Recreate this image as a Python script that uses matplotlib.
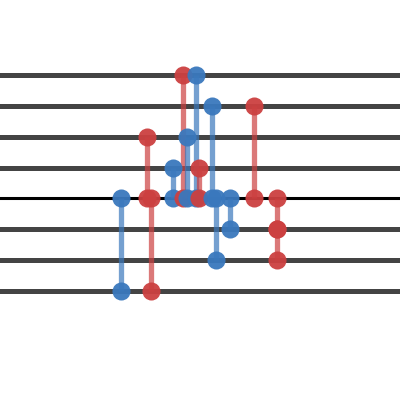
import numpy as np
import matplotlib
matplotlib.use("Agg")
import matplotlib.pyplot as plt

# staff levels (0 is the centre line)
levels = [4, 3, 2, 1, 0, -1, -2, -3]

# vertical links: position, start level, end level, colour
link_x = [121, 147, 151, 173, 183, 187, 196, 199, 212, 216, 230, 254, 277, 277]
link_from = [0, 2, 0, 1, 4, 2, 4, 1, 3, 0, 0, 3, 0, -1]
link_to = [-3, 0, -3, 0, 0, 0, 0, 0, 0, -2, -1, 0, -1, -2]
link_kind = ["b", "r", "r", "b", "r", "b", "b", "r", "b", "b", "b", "r", "r", "r"]

colors = {"b": "#3a78bd", "r": "#cc4040"}

fig = plt.figure(figsize=(4, 4), dpi=100)
ax = fig.add_axes([0, 0, 1, 1])

for lv in levels:
    if lv == 0:
        ax.axhline(lv, color="black", lw=2.2, zorder=1)
    else:
        ax.axhline(lv, color="#444444", lw=3.6, zorder=1)

for x, a, b, k in zip(link_x, link_from, link_to, link_kind):
    c = colors[k]
    ax.plot([x, x], [a, b], color=c, lw=3.8, alpha=0.7, solid_capstyle="butt", zorder=2)
    ax.plot([x, x], [a, b], "o", color=c, ms=13, alpha=0.95, markeredgewidth=0, zorder=3)

ax.set_xlim(0, 400)
ax.set_ylim(-6.53, 6.43)
ax.axis("off")

fig.savefig("out.png", dpi=100)
